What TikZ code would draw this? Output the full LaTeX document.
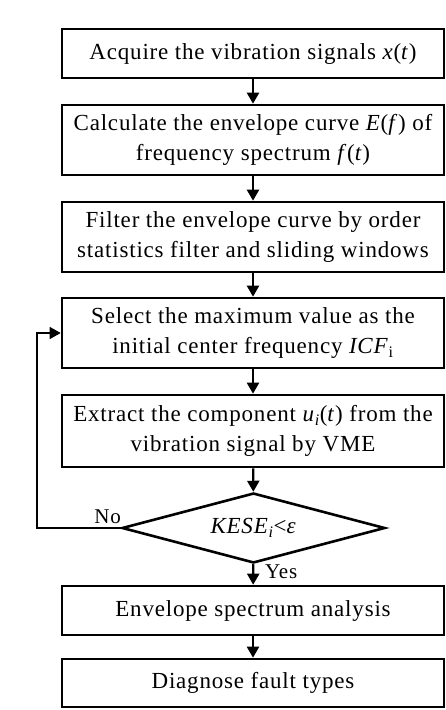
\documentclass[tikz,border=0pt]{standalone}
\usepackage{fontspec}
\setmainfont{Liberation Serif}[LetterSpace=3.5]
\usetikzlibrary{arrows.meta,shapes.geometric}
\begin{document}
\begin{tikzpicture}[x=1pt,y=-1pt,
  box/.style={draw,line width=2.6pt,minimum width=382pt,inner sep=0pt,align=center,
    font=\fontsize{23}{30}\selectfont},
  cond/.style={draw,diamond,aspect=3.76,line width=2.6pt,minimum width=263pt,minimum height=70pt,inner sep=0pt,
    font=\fontsize{23}{30}\selectfont},
  flow/.style={line width=2.2pt,-{Triangle[length=11pt,width=12pt]}},
  back/.style={line width=1.4pt,-{Triangle[length=11pt,width=12pt]}},
  lbl/.style={font=\fontsize{21}{24}\selectfont,inner sep=0pt}]
\useasboundingbox (0,0) rectangle (446,710);
\node[box,minimum height=49pt] (b1) at (253,53.5) {Acquire the vibration signals \textit{x}(\textit{t})};
\node[box,minimum height=70pt] (b2) at (253,140) {Calculate the envelope curve \textit{E}(\textit{f}) of\\frequency spectrum \textit{f}(\textit{t})};
\node[box,minimum height=70pt] (b3) at (253,237) {Filter the envelope curve by order\\statistics filter and sliding windows};
\node[box,minimum height=70pt] (b4) at (253,333) {Select the maximum value as the\\initial center frequency \textit{ICF}\textsubscript{i}};
\node[box,minimum height=72pt] (b5) at (253,431) {Extract the component \textit{u}\textsubscript{\itshape i}(\textit{t}) from the\\vibration signal by VME};
\node[cond] (d) at (253.5,528) {\textit{KESE}\textsubscript{\itshape i}<\textit{ε}};
\node[box,minimum height=49pt] (b6) at (253,610.5) {Envelope spectrum analysis};
\node[box,minimum height=48pt] (b7) at (253,683) {Diagnose fault types};
\coordinate (c1) at (37,528);
\coordinate (c2) at (37,333);
\draw[flow] (b1) -- (b2);
\draw[flow] (b2) -- (b3);
\draw[flow] (b3) -- (b4);
\draw[flow] (b4) -- (b5);
\draw[flow] (b5) -- (d);
\draw[flow] (d) -- (b6);
\draw[flow] (b6) -- (b7);
\draw[back] (d.west) -- (c1) -- (c2) -- (b4.west);
\node[lbl,anchor=base east] (no) at (121,523) {No};
\node[lbl,anchor=base west] (yes) at (265,578) {Yes};
\end{tikzpicture}
\end{document}
